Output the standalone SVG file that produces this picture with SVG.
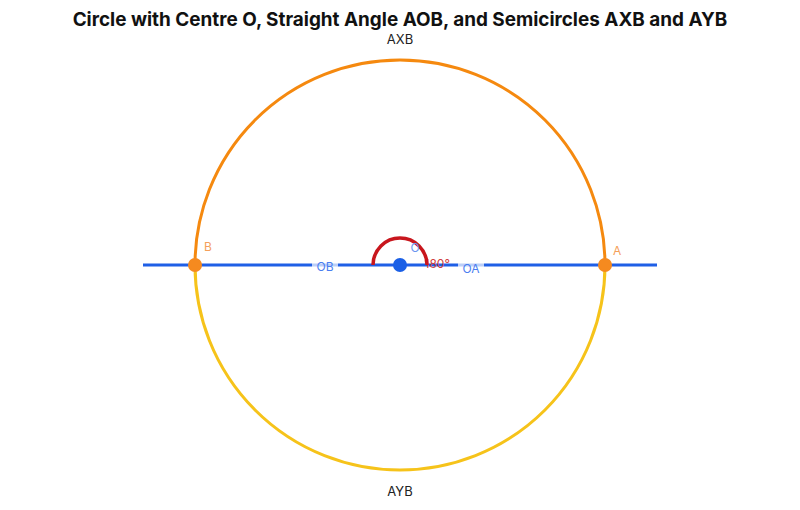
<svg xmlns="http://www.w3.org/2000/svg" width="800" height="510" viewBox="0 0 800 510">
<style>
.title{font-family:"Inter","Liberation Sans",sans-serif;font-weight:700;font-size:18.9px;fill:#111;text-anchor:middle}
.arcl{font-family:"Inter","Liberation Sans",sans-serif;font-size:13px;fill:#222;text-anchor:middle}
.pt{font-family:"Inter","Liberation Sans",sans-serif;font-size:12px;fill:#f5a05a}
.seg{font-family:"Inter","Liberation Sans",sans-serif;font-size:12px;fill:#4a7df0;text-anchor:middle}
.ang{font-family:"Inter","Liberation Sans",sans-serif;font-size:12px;fill:#d04040}
.bg{fill:#fff;fill-opacity:0.7}
</style>
<rect width="800" height="510" fill="#fff"/>
<text class="title" x="400" y="26">Circle with Centre O, Straight Angle AOB, and Semicircles AXB and AYB</text>
<g id="connectors">
<path id="arcAXB" d="M605,265 A205,205 0 0 0 195,265" fill="none" stroke="#f5890f" stroke-width="3"/>
<path id="arcAYB" d="M195,265 A205,205 0 0 0 605,265" fill="none" stroke="#f6c31a" stroke-width="3"/>
<line id="lineAB" x1="143" y1="265" x2="657" y2="265" stroke="#1f5fe6" stroke-width="3"/>
<rect class="bg" x="312" y="260" width="26" height="13"/>
<text class="seg" x="325" y="271">OB</text>
<rect class="bg" x="458" y="262" width="26" height="13"/>
<text class="seg" x="471" y="273">OA</text>
</g>
<g id="angle">
<text class="ang" x="424.5" y="268">180°</text>
<path d="M373,265 A27,27 0 0 1 427,265" fill="none" stroke="#c8161d" stroke-width="3.5"/>
</g>
<g id="nodeO">
<circle cx="400" cy="265" r="7" fill="#1a5fe6"/>
<text x="415" y="252" font-family="Inter,'Liberation Sans',sans-serif" font-size="12" fill="#6a95f0" text-anchor="middle">O</text>
</g>
<g id="nodeA">
<circle cx="605" cy="265" r="7" fill="#f58a1f"/>
<text class="pt" x="613" y="255">A</text>
</g>
<g id="nodeB">
<circle cx="195" cy="265" r="7" fill="#f58a1f"/>
<text class="pt" x="204" y="251">B</text>
</g>
<g id="labelAXB"><text class="arcl" x="400" y="44">AXB</text></g>
<g id="labelAYB"><text class="arcl" x="400" y="496">AYB</text></g>
</svg>
